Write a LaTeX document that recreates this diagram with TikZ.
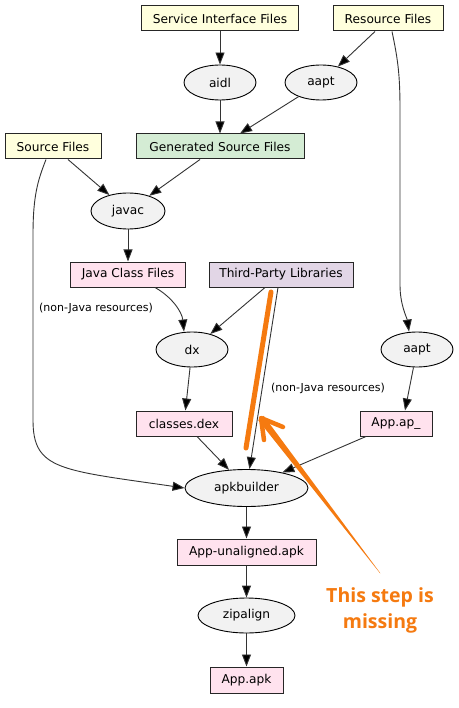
\documentclass[tikz,border=0pt]{standalone}
\usepackage{fontspec}
\setmainfont{DejaVu Sans}
\newfontfamily\notefont{Open Sans}
\usetikzlibrary{arrows.meta,shapes.geometric}
\definecolor{fileyellow}{HTML}{FFFFDD}
\definecolor{filegreen}{HTML}{D4ECD4}
\definecolor{filepink}{HTML}{FFE2EE}
\definecolor{filelav}{HTML}{E2D6E6}
\definecolor{toolgray}{HTML}{F2F2F2}
\definecolor{noteorange}{HTML}{F57A10}
\tikzset{
  filebox/.style={draw=black!85, line width=1pt, rectangle, minimum height=25pt, inner sep=0pt, font=\fontsize{12.2}{14}\selectfont},
  toolell/.style={draw=black, line width=0.9pt, ellipse, fill=toolgray, minimum height=35pt, inner sep=0pt, font=\fontsize{12.2}{14}\selectfont},
  edge/.style={draw=black!80, line width=0.9pt, -{Triangle[length=12pt,width=9pt,fill=black]}},
  elabel/.style={font=\fontsize{11}{13}\selectfont, inner sep=0pt},
}
\begin{document}
\begin{tikzpicture}[x=1pt,y=-1pt]
\useasboundingbox[fill=white] (0,0) rectangle (458,708);
% file nodes
\node[filebox, fill=fileyellow, minimum width=157pt] (sif) at (220,18.5) {Service Interface Files};
\node[filebox, fill=fileyellow, minimum width=110pt] (res) at (388,18.5) {Resource Files};
\node[filebox, fill=fileyellow, minimum width=96pt] (src) at (53,146.5) {Source Files};
\node[filebox, fill=filegreen, minimum width=168pt] (gen) at (220,146.5) {Generated Source Files};
\node[filebox, fill=filepink, minimum width=115pt] (jcf) at (128,274.5) {Java Class Files};
\node[filebox, fill=filelav, minimum width=144pt] (tpl) at (281,274.5) {Third-Party Libraries};
\node[filebox, fill=filepink, minimum width=96pt] (cdex) at (184,423.5) {classes.dex};
\node[filebox, fill=filepink, minimum width=72pt] (apap) at (396,423.5) {App.ap\_};
\node[filebox, fill=filepink, minimum width=139pt, minimum height=26pt] (unal) at (246.5,552) {App-unaligned.apk};
\node[filebox, fill=filepink, minimum width=73pt, minimum height=26pt] (apkf) at (246.5,680) {App.apk};
% tool nodes
\node[toolell, minimum width=72pt] (aidl) at (220,82.5) {aidl};
\node[toolell, minimum width=72pt] (aapt1) at (321,82.5) {aapt};
\node[toolell, minimum width=74pt, minimum height=36pt] (javac) at (128,211) {javac};
\node[toolell, minimum width=72pt] (dx) at (192,349.5) {dx};
\node[toolell, minimum width=72pt] (aapt2) at (417,349.5) {aapt};
\node[toolell, minimum width=123pt, minimum height=37pt] (apk) at (246.5,488) {apkbuilder};
\node[toolell, minimum width=97pt] (zip) at (246.5,615.5) {zipalign};
% edge labels
\node[elabel] (lab1) at (96,308) {(non-Java resources)};
\node[elabel] (lab2) at (328,388) {(non-Java resources)};
% edges
\draw[edge] (sif) -- (aidl);
\draw[edge] ([xshift=-13pt]res.south) -- (aapt1);
\draw[edge] ([xshift=4pt]res.south) .. controls (398,60) and (400,75) .. (400,110) -- (400,285) .. controls (400,305) and (407,318) .. ([xshift=-8pt]aapt2.north);
\draw[edge] (aidl) -- (gen);
\draw[edge] (aapt1) -- ([xshift=20pt]gen.north);
\draw[edge] ([xshift=15pt]src.south) -- (javac);
\draw[edge] ([xshift=-20pt]gen.south) -- (javac);
\draw[edge] ([xshift=-7pt]src.south) .. controls (38,180) and (33,195) .. (33,235) -- (33,420) .. controls (33,470) and (60,470) .. (apk.west);
\draw[edge] (javac) -- (jcf);
\draw[edge] ([xshift=27pt]jcf.south) .. controls (172,297) and (182,312) .. ([xshift=-8pt]dx.north);
\draw[edge] ([xshift=-16pt]tpl.south) -- (dx);
\draw[edge] ([xshift=-3pt]tpl.south) -- ([xshift=3pt]apk.north);
\draw[edge] (dx) -- (cdex);
\draw[edge] (aapt2) -- ([xshift=9pt]apap.north);
\draw[edge] ([xshift=13pt]cdex.south) -- (apk);
\draw[edge] ([xshift=-30pt]apap.south) -- (apk);
\draw[edge] (apk) -- (unal);
\draw[edge] (unal) -- (zip);
\draw[edge] (zip) -- (apkf);
% orange annotation
\draw[noteorange, line width=5pt, line cap=round] (271,292) -- (246,448);
\fill[noteorange] (380.4,573.3) -- (379.6,572.7) -- (258.2,420.1) -- (263.8,415.9) -- cycle;
\draw[noteorange, line width=4.5pt, line cap=round, line join=round] (283,427) -- (261,418) -- (264,440);
\node[text=noteorange, font=\notefont\bfseries\fontsize{19.5}{26}\selectfont, align=center, inner sep=0pt] (note) at (380,610) {This step is\\missing};
\end{tikzpicture}
\end{document}
